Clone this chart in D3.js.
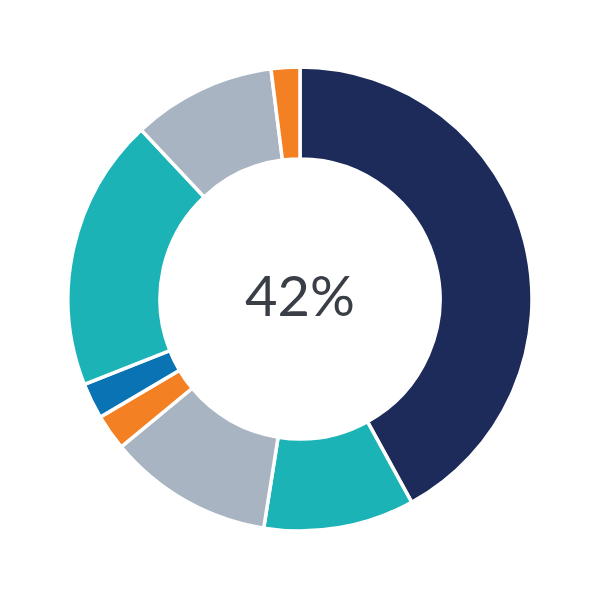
<!DOCTYPE html>
<html>
<head>
<meta charset="utf-8">
<script src="https://cdn.jsdelivr.net/npm/d3@7"></script>
<style>
  html, body { margin: 0; padding: 0; background: #ffffff; }
  svg { display: block; }
</style>
</head>
<body>
<svg id="chart" width="600" height="600"></svg>
<script>
const categories = ["A", "B", "C", "D", "E", "F", "G", "H"];
const values = [42, 10.5, 11.5, 2.5, 2.5, 19, 10, 2];
const colors = ["#1c2b59", "#1bb3b6", "#a9b4c2", "#f38022", "#0a73b3", "#1bb3b6", "#a9b4c2", "#f38022"];
const centerLabel = "42%";

const svg = d3.select("#chart");
const cx = 300, cy = 299, outerR = 232, innerR = 140;
const g = svg.append("g").attr("transform", `translate(${cx},${cy})`);

const pie = d3.pie().sort(null).value(d => d.value);
const arc = d3.arc().innerRadius(innerR).outerRadius(outerR);
const color = d3.scaleOrdinal().domain(categories).range(colors);

const data = categories.map((c, i) => ({ name: c, value: values[i] }));

g.selectAll("path")
  .data(pie(data))
  .join("path")
  .attr("d", arc)
  .attr("fill", d => color(d.data.name))
  .attr("stroke", "#ffffff")
  .attr("stroke-width", 3.5)
  .attr("stroke-linejoin", "miter");

g.append("text")
  .attr("x", 0)
  .attr("y", -3)
  .attr("dy", "0.35em")
  .attr("text-anchor", "middle")
  .attr("font-family", "Lato, 'Open Sans', sans-serif")
  .attr("font-size", 56)
  .attr("fill", "#3a3f47")
  .text(centerLabel);
</script>
</body>
</html>
